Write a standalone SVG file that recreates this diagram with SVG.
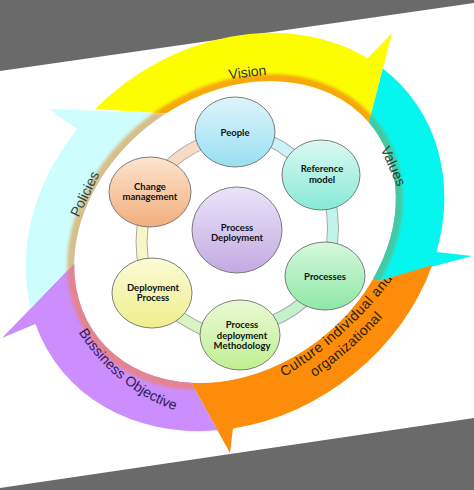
<svg xmlns="http://www.w3.org/2000/svg" width="474" height="490" viewBox="0 0 474 490">
  <style>
    .ring { stroke: none; }
    .rlabel { font-family: "Liberation Sans", Arial, sans-serif; font-size: 14px; }
    .ntext { font-family: Lato, "Liberation Sans", sans-serif; font-weight: 700; font-size: 9.5px; fill: #111; text-anchor: middle; }
    .node { stroke: #6f6f6f; stroke-width: 0.9; }
    .cedge { fill: none; stroke: #a9a9a9; stroke-width: 12; stroke-linecap: butt; }
    .cfill { fill: none; stroke-width: 10; stroke-linecap: butt; }
    .band { fill: none; stroke-width: 14; }
  </style>
  <defs>
    <filter id="soft" x="-20%" y="-20%" width="140%" height="140%">
      <feGaussianBlur stdDeviation="1.6"/>
    </filter>
    <path id="pY" d="M 16 -136.4 L -37.6 -182.3 A 222 185 0 0 1 210.4 -59 L 245.2 -64.4 L 172.8 -6.8 A 173 137 0 0 0 16 -136.4 Z"/>
    <path id="pC" d="M 172.8 -6.8 L 216.4 -41.5 A 222 185 0 0 1 148.8 137.3 L 174.9 161.8 L 86 126 L 81.5 120.8 A 173 137 0 0 0 172.8 -6.8 Z"/>
    <path id="pO" d="M 81.5 120.8 L 86 126 L 137.4 145.3 A 222 185 0 0 1 -119.9 155.7 L -137 173.5 L -125.7 94.1 A 173 137 0 0 0 81.5 120.8 Z"/>
    <path id="pP" d="M -125.7 94.1 L -133.3 147.9 A 222 185 0 0 1 -214.8 -46.6 L -249.9 -55.5 L -147.3 -71.8 A 173 137 0 0 0 -125.7 94.1 Z"/>
    <path id="pL" d="M -147.3 -71.8 L -209.2 -61.9 A 222 185 0 0 1 -64.2 -177.1 L -74.5 -210.1 L 16 -136.4 A 173 137 0 0 0 -147.3 -71.8 Z"/>
    <clipPath id="cY"><use href="#pY"/></clipPath>
    <clipPath id="cC"><use href="#pC"/></clipPath>
    <clipPath id="cO"><use href="#pO"/></clipPath>
    <clipPath id="cP"><use href="#pP"/></clipPath>
    <clipPath id="cL"><use href="#pL"/></clipPath>
    <path id="tpB" d="M 75.5 327 A 190 190 0 0 0 190.8 415.5"/>
    <path id="tpC1" d="M 272 384 A 400 400 0 0 0 402 266"/>
    <path id="tpC2" d="M 283 397 A 417 417 0 0 0 411 283"/>
    <linearGradient id="gPeople" x1="0" y1="0" x2="0" y2="1">
      <stop offset="0" stop-color="#dff4fb"/><stop offset="1" stop-color="#98dff2"/>
    </linearGradient>
    <linearGradient id="gRef" x1="0" y1="0" x2="0" y2="1">
      <stop offset="0" stop-color="#dcf8f2"/><stop offset="1" stop-color="#86ead6"/>
    </linearGradient>
    <linearGradient id="gProc" x1="0" y1="0" x2="0" y2="1">
      <stop offset="0" stop-color="#d6f8dc"/><stop offset="1" stop-color="#8ee8a6"/>
    </linearGradient>
    <linearGradient id="gMeth" x1="0" y1="0" x2="0" y2="1">
      <stop offset="0" stop-color="#eafad4"/><stop offset="1" stop-color="#c0ef92"/>
    </linearGradient>
    <linearGradient id="gDep" x1="0" y1="0" x2="0" y2="1">
      <stop offset="0" stop-color="#fbfbd8"/><stop offset="1" stop-color="#eeee8c"/>
    </linearGradient>
    <linearGradient id="gChg" x1="0" y1="0" x2="0" y2="1">
      <stop offset="0" stop-color="#fce4cf"/><stop offset="1" stop-color="#f2ae7c"/>
    </linearGradient>
    <linearGradient id="gCtr" x1="0" y1="0" x2="0" y2="1">
      <stop offset="0" stop-color="#ece4fa"/><stop offset="1" stop-color="#c2aae2"/>
    </linearGradient>
  </defs>

  <rect x="0" y="0" width="474" height="490" fill="#ffffff"/>
  <polygon points="0,0 474,0 474,3 0,71" fill="#6a6a6a"/>
  <polygon points="0,488 474,418 474,490 0,490" fill="#6a6a6a"/>

  <!-- Ring segments (local frame) -->
  <g transform="translate(235,232) rotate(-37)">
    <g id="seg-vision">
      <use href="#pY" fill="#fdfd02"/>
      <g clip-path="url(#cY)"><ellipse rx="173" ry="137" class="band" stroke="#f6a810" filter="url(#soft)"/></g>
    </g>
    <g id="seg-values">
      <use href="#pC" fill="#05f6ef"/>
      <g clip-path="url(#cC)"><ellipse rx="173" ry="137" class="band" stroke="#46c8a2" filter="url(#soft)"/></g>
    </g>
    <g id="seg-culture">
      <use href="#pO" fill="#fc8c0a"/>
      <g clip-path="url(#cO)">
        <g transform="rotate(37) translate(-235,-232)">
          <text class="rlabel" font-size="15.5" letter-spacing="0.6" fill="#2a1c0c"><textPath href="#tpC1" startOffset="14">Culture individual and</textPath></text>
          <text class="rlabel" font-size="15.5" letter-spacing="0.3" fill="#2a1c0c"><textPath href="#tpC2" startOffset="37">organizational</textPath></text>
        </g>
      </g>
    </g>
    <g id="seg-business">
      <use href="#pP" fill="#cc8efc"/>
      <g clip-path="url(#cP)"><ellipse rx="173" ry="137" class="band" stroke="#e4848e" filter="url(#soft)"/></g>
    </g>
    <g id="seg-policies">
      <use href="#pL" fill="#cdfdfd"/>
      <g clip-path="url(#cL)"><ellipse rx="173" ry="137" class="band" stroke="#d8bf8a" filter="url(#soft)"/></g>
    </g>
  </g>

  <!-- Ring labels -->
  <text class="rlabel" fill="#333333" text-anchor="middle" transform="translate(248,77) rotate(-7)">Vision</text>
  <text class="rlabel" fill="#283838" text-anchor="middle" transform="translate(389,168) rotate(66)">Values</text>
  <text class="rlabel" font-size="15" fill="#284646" text-anchor="middle" transform="translate(89,196) rotate(-64)">Policies</text>
  <text class="rlabel" font-size="13.5" fill="#2b1a55"><textPath href="#tpB" startOffset="6">Bussiness Objective</textPath></text>

  <!-- Connectors -->
  <g id="connectors">
    <path class="cedge" d="M 262 138 Q 282 144 300 162"/>
    <path class="cfill" stroke="#cdf1f8" d="M 262 138 Q 282 144 300 162"/>
    <path class="cedge" d="M 330 200 Q 336 228 330 255"/>
    <path class="cfill" stroke="#c2f3ea" d="M 330 200 Q 336 228 330 255"/>
    <path class="cedge" d="M 310 295 Q 295 312 270 322"/>
    <path class="cfill" stroke="#c4f2cc" d="M 310 295 Q 295 312 270 322"/>
    <path class="cedge" d="M 170 310 Q 190 325 215 335"/>
    <path class="cfill" stroke="#d6f5c0" d="M 170 310 Q 190 325 215 335"/>
    <path class="cedge" d="M 145 215 Q 138 242 145 270"/>
    <path class="cfill" stroke="#f6f6c6" d="M 145 215 Q 138 242 145 270"/>
    <path class="cedge" d="M 165 170 Q 180 152 210 140"/>
    <path class="cfill" stroke="#f6dcc6" d="M 165 170 Q 180 152 210 140"/>
  </g>

  <!-- Nodes -->
  <g id="node-people">
    <ellipse class="node" cx="235" cy="132" rx="40" ry="35" fill="url(#gPeople)"/>
    <text class="ntext" x="235" y="136">People</text>
  </g>
  <g id="node-reference">
    <ellipse class="node" cx="321" cy="175" rx="39" ry="35" fill="url(#gRef)"/>
    <text class="ntext" x="322" y="172">Reference</text>
    <text class="ntext" x="322" y="183">model</text>
  </g>
  <g id="node-processes">
    <ellipse class="node" cx="325" cy="276" rx="40" ry="34" fill="url(#gProc)"/>
    <text class="ntext" x="325" y="280">Processes</text>
  </g>
  <g id="node-methodology">
    <ellipse class="node" cx="240" cy="335" rx="40" ry="35" fill="url(#gMeth)"/>
    <text class="ntext" x="242" y="328">Process</text>
    <text class="ntext" x="242" y="338.5">deployment</text>
    <text class="ntext" x="242" y="349">Methodology</text>
  </g>
  <g id="node-deployment">
    <ellipse class="node" cx="152" cy="293" rx="40" ry="35" fill="url(#gDep)"/>
    <text class="ntext" x="153" y="291">Deployment</text>
    <text class="ntext" x="153" y="301">Process</text>
  </g>
  <g id="node-change">
    <ellipse class="node" cx="150" cy="192" rx="41" ry="35" fill="url(#gChg)"/>
    <text class="ntext" x="150" y="190">Change</text>
    <text class="ntext" x="150" y="200">management</text>
  </g>
  <g id="node-center">
    <ellipse class="node" cx="237" cy="230" rx="45" ry="43" fill="url(#gCtr)"/>
    <text class="ntext" x="237" y="231">Process</text>
    <text class="ntext" x="237" y="241">Deployment</text>
  </g>
</svg>
